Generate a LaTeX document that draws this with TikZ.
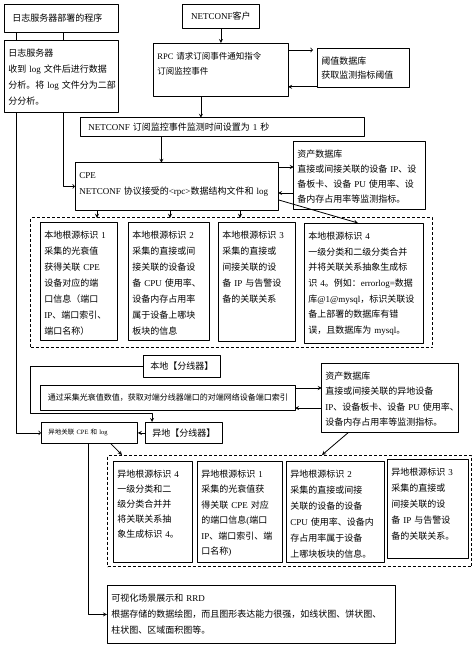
\documentclass[tikz,border=0pt]{standalone}
\usepackage{fontspec}
\setmainfont{Liberation Serif}
\newfontfamily\cjk{Noto Sans CJK SC}
% Chinese characters are set in the CJK family
\XeTeXinterchartokenstate=1
\newXeTeXintercharclass\cjkclass
\count255="3000
\loop\ifnum\count255<"A000 \XeTeXcharclass\count255=\cjkclass \advance\count255 by 1 \repeat
\count255="FF00
\loop\ifnum\count255<"FFF0 \XeTeXcharclass\count255=\cjkclass \advance\count255 by 1 \repeat
\XeTeXinterchartoks 0 \cjkclass={\cjk}
\XeTeXinterchartoks 4095 \cjkclass={\cjk}
\XeTeXinterchartoks \cjkclass 0={\rmfamily}
\XeTeXinterchartoks \cjkclass 4095={\rmfamily}
\hyphenpenalty=10000
\begin{document}
\begin{tikzpicture}[x=1pt, y=-1pt, >=stealth, line join=round, line width=.8pt,
	blk/.style={draw, anchor=north west, align=left, inner sep=4pt, text height=12pt, font=\fontsize{9}{16}\selectfont},
	tag/.style={draw, anchor=north west, inner sep=4pt, font=\fontsize{9}{11}\selectfont},
	grp/.style={draw, anchor=north west, inner sep=0pt, line width=1.1pt, dash pattern=on 3pt off 2pt}]
	\useasboundingbox (0,0) rectangle (474,647);
	% upper part
	\node[tag, text width=98pt, inner xsep=8pt, minimum height=28pt, align=left] (prog) at (4,4) {日志服务器部署的程序};
	\node[blk, text width=106pt, text depth=52pt] (srv) at (4,40) {日志服务器\\收到~log~文件后进行数据\\分析。将~log~文件分为二部\\分分析。};
	\node[tag, minimum width=77pt, minimum height=24pt] (client) at (182,4) {NETCONF客户};
	\node[blk, text width=127pt, text depth=33pt, font=\fontsize{8.5}{15}\selectfont] (rpc) at (153,43) {RPC 请求订阅事件通知指令\\订阅监控事件};
	\node[blk, text width=84pt, text depth=19pt, font=\fontsize{9}{14}\selectfont] (thr) at (317,48) {阈值数据库\\获取监测指标阈值};
	\node[tag, text width=268pt, inner xsep=8pt, minimum height=19pt, align=left] (sub) at (80,117) {NETCONF 订阅监控事件监测时间设置为 1 秒};
	\node[blk, text width=195pt, text depth=28pt] (cpe) at (75,162) {CPE\\NETCONF~协议接受的<rpc>数据结构文件和~log};
	\node[blk, text width=124pt, text depth=48pt, font=\fontsize{9}{15}\selectfont] (asset) at (293,141) {资产数据库\\直接或间接关联的设备~IP、设\\备板卡、设备~PU~使用率、设\\备内存占用率等监测指标。};
	% local group
	\node[grp, minimum width=402pt, minimum height=130pt] (lgrp) at (30,217) {};
	\node[blk, text width=69pt, text depth=98pt] (l1) at (40,222) {本地根源标识~1\\采集的光衰值\\获得关联~CPE\\设备对应的端\\口信息（端口\\IP、端口索引、\\端口名称）};
	\node[blk, text width=73pt, text depth=98pt] (l2) at (128,222) {本地根源标识~2\\采集的直接或间\\接关联的设备设\\备~CPU~使用率、\\设备内存占用率\\属于设备上哪块\\板块的信息};
	\node[blk, text width=69pt, text depth=99pt] (l3) at (218,222) {本地根源标识~3\\采集的直接或\\间接关联的设\\备~IP~与告警设\\备的关联关系};
	\node[blk, text width=111pt, text depth=100pt, font=\fontsize{9}{15.7}\selectfont] (l4) at (304,223) {本地根源标识~4\\一级分类和二级分类合并\\并将关联关系抽象生成标\\识~4。例如：errorlog=数据\\库@1@mysql，标识关联设\\备上部署的数据库有错\\误，且数据库为~mysql。};
	% splitters
	\node[tag, minimum width=77pt, minimum height=22pt] (loc) at (143,355) {本地【分线器】};
	\node[tag, minimum width=255pt, minimum height=25pt, font=\fontsize{8}{10}\selectfont] (via) at (40,385) {通过采集光衰值数值，获取对端分线器端口的对端网络设备端口索引};
	\node[blk, text width=129pt, text depth=49pt, font=\fontsize{9}{15.3}\selectfont] (asset2) at (321,363) {资产数据库\\直接或间接关联的异地设备\\IP、设备板卡、设备~PU~使用率、\\设备内存占用率等监测指标。};
	\node[tag, text width=82pt, inner xsep=7pt, minimum height=21pt, align=left, font=\fontsize{6.5}{8}\selectfont] (rlog) at (41,422) {异地关联 CPE 和 log};
	\node[tag, minimum width=77pt, minimum height=21pt] (rem) at (145,422) {异地【分线器】};
	% remote group
	\node[grp, minimum width=364pt, minimum height=111pt] (rgrp) at (107,455) {};
	\node[blk, text width=71pt, text depth=81pt, font=\fontsize{9}{15}\selectfont] (r4) at (113,461) {异地根源标识~4\\一级分类和二\\级分类合并并\\将关联关系抽\\象生成标识~4。};
	\node[blk, text width=77pt, text depth=81pt, font=\fontsize{9}{15.5}\selectfont] (r1) at (197,461) {异地根源标识~1\\采集的光衰值获\\得关联~CPE~对应\\的端口信息(端口\\IP、端口索引、端\\口名称)};
	\node[blk, text width=90pt, text depth=81pt] (r2) at (286,461) {异地根源标识~2\\采集的直接或间接\\关联的设备的设备\\CPU~使用率、设备内\\存占用率属于设备\\上哪块板块的信息。};
	\node[blk, text width=73pt, text depth=79pt] (r3) at (387,459) {异地根源标识~3\\采集的直接或\\间接关联的设\\备~IP~与告警设\\备的关联关系。};
	\node[blk, text width=280pt, text depth=38pt] (vis) at (107,585) {可视化场景展示和~RRD\\根据存储的数据绘图，而且图形表达能力很强，如线状图、饼状图、\\柱状图、区域面积图等。};
	% connectors
	\draw ([xshift=12pt]prog.south west) -- ([xshift=12pt]srv.north west);
	\draw ([xshift=59pt]prog.south west) -- ([xshift=59pt]srv.north west);
	\draw[-to] ([xshift=12pt]srv.south west) |- (rlog.west);
	\draw[-to] ([xshift=59pt]srv.south west) |- (cpe.west);
	\draw[->] (client) -- (rpc);
	\draw[-to] ([yshift=-2pt]thr.north west) ++(-29,0) -- ++(25,0);
	\draw[->] ([yshift=1pt]thr.south west) -- ++(-29,0);
	\draw[->] ([xshift=-20pt]rpc.south) -- ++(0,21);
	\draw[->] ([xshift=-61pt]sub.south) -- ++(0,26);
	\draw[->] ([yshift=-5pt]cpe.north east) -- ++(15,0);
	\draw[->] ([yshift=-52pt]asset.north west) -- ++(-15,0);
	\draw[->] ([yshift=-38pt]cpe.north east) -- ([xshift=54pt]l4.north west);
	\foreach \dx in {22,95,165}
		\draw[->] ([xshift=\dx pt]cpe.south west) -- ++(0,7);
	\coordinate (turn) at (30,413);
	\draw[->] (loc.west) -| (turn) -| ([xshift=7pt]rem.north west);
	\draw[->] ([yshift=-3pt]via.north east) -- ++(26,0);
	\draw[->] ([yshift=-45pt]asset2.north west) -- ++(-26,0);
	\draw[->] ([xshift=27pt]asset2.south west) -- ([xshift=215pt]rgrp.north west);
	\draw[->] (rem) -- (rlog);
	\draw[->] ([xshift=70pt]rlog.south west) -- ([xshift=15pt]rgrp.north west);
	\draw[->] ([xshift=47pt]rlog.south west) |- (vis.west);
\end{tikzpicture}
\end{document}
